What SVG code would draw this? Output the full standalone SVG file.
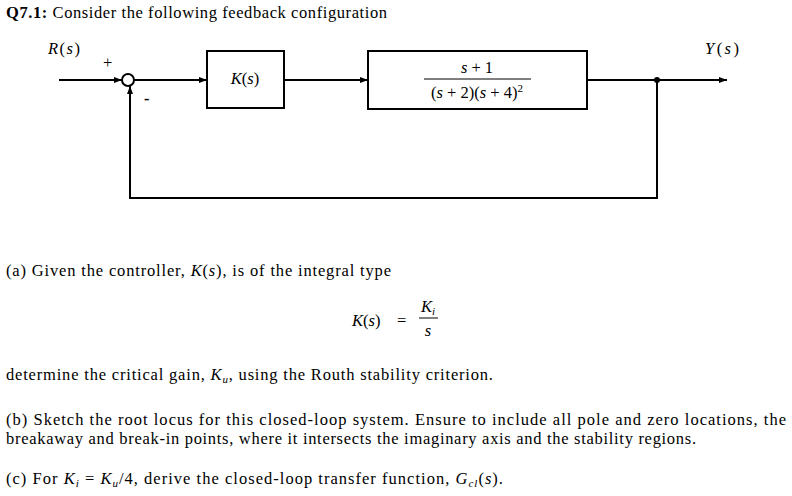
<svg xmlns="http://www.w3.org/2000/svg" width="792" height="496" viewBox="0 0 792 496">
<style>
text{font-family:"Liberation Serif","DejaVu Serif",serif;font-size:16.5px;fill:#000}
.m{font-style:italic}
.b{stroke:#000;stroke-width:2;fill:#fff}
.c{stroke:#000;stroke-width:2;fill:none}
</style>
<defs><marker id="a" markerWidth="8" markerHeight="6" refX="8" refY="3" orient="auto" markerUnits="userSpaceOnUse"><path d="M0,0L8,3L0,6z" fill="#000"/></marker></defs>
<rect width="792" height="496" fill="#fff"/>
<text x="6" y="18" textLength="381" lengthAdjust="spacing"><tspan font-weight="bold">Q7.1:</tspan> Consider the following feedback configuration</text>
<text x="48" y="54" textLength="32" lengthAdjust="spacing"><tspan class="m">R</tspan>(<tspan class="m">s</tspan>)</text>
<text x="103" y="68" font-size="20">+</text>
<text x="144" y="104" font-weight="bold" font-size="17">-</text>
<text x="705" y="54" textLength="34" lengthAdjust="spacing"><tspan class="m">Y</tspan>(<tspan class="m">s</tspan>)</text>
<g id="connectors">
<path class="c" d="M59,80H122" marker-end="url(#a)"/>
<path class="c" d="M134,80H207" marker-end="url(#a)"/>
<path class="c" d="M284,80H368" marker-end="url(#a)"/>
<path class="c" d="M587,80H727" marker-end="url(#a)"/>
<path class="c" d="M657,80V198H130V86" marker-end="url(#a)"/>
<circle cx="657" cy="80" r="3" fill="#000"/>
</g>
<g id="sum"><circle cx="128" cy="80" r="6" class="b"/></g>
<g id="K"><rect x="207" y="51" width="77" height="57" class="b"/>
<text x="245" y="84" text-anchor="middle"><tspan class="m">K</tspan>(<tspan class="m">s</tspan>)</text></g>
<g id="G"><rect x="368" y="51" width="219" height="58" class="b"/>
<text x="477" y="73" text-anchor="middle"><tspan class="m">s</tspan> + 1</text>
<line x1="424" y1="79" x2="531" y2="79" stroke="#000"/>
<text x="477" y="98" text-anchor="middle">(<tspan class="m">s</tspan> + 2)(<tspan class="m">s</tspan> + 4)<tspan font-size="11" dy="-6">2</tspan></text></g>
<text x="6" y="276" textLength="385" lengthAdjust="spacing">(a) Given the controller, <tspan class="m">K</tspan>(<tspan class="m">s</tspan>), is of the integral type</text>
<text x="352" y="326"><tspan class="m">K</tspan>(<tspan class="m">s</tspan>)</text>
<text x="397" y="326">=</text>
<text x="428" y="312" text-anchor="middle"><tspan class="m">K</tspan><tspan class="m" font-size="11" dy="3">i</tspan></text>
<line x1="419" y1="318" x2="438" y2="318" stroke="#000"/>
<text x="428" y="336" text-anchor="middle" class="m" font-size="14">s</text>
<text x="6" y="380" textLength="487" lengthAdjust="spacing">determine the critical gain, <tspan class="m">K</tspan><tspan class="m" font-size="11" dy="3">u</tspan><tspan dy="-3">, using the Routh stability criterion.</tspan></text>
<text x="6" y="425" textLength="780" lengthAdjust="spacing">(b) Sketch the root locus for this closed-loop system. Ensure to include all pole and zero locations, the</text>
<text x="6" y="444" textLength="690" lengthAdjust="spacing">breakaway and break-in points, where it intersects the imaginary axis and the stability regions.</text>
<text x="6" y="484" textLength="497" lengthAdjust="spacing">(c) For <tspan class="m">K</tspan><tspan class="m" font-size="11" dy="3">i</tspan><tspan dy="-3"> = </tspan><tspan class="m">K</tspan><tspan class="m" font-size="11" dy="3">u</tspan><tspan dy="-3">/4, derive the closed-loop transfer function, </tspan><tspan class="m">G</tspan><tspan class="m" font-size="11" dy="3">cl</tspan><tspan dy="-3">(</tspan><tspan class="m">s</tspan>).</text>
</svg>
